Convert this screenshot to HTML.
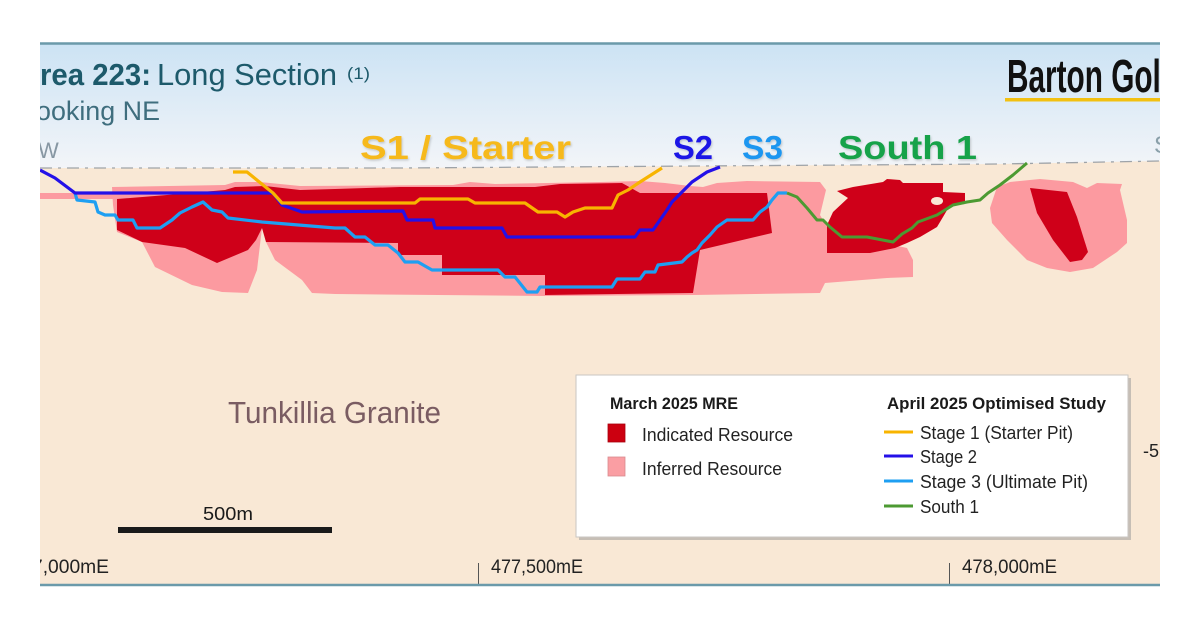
<!DOCTYPE html>
<html>
<head>
<meta charset="utf-8">
<style>
  html,body{margin:0;padding:0;background:#ffffff;}
  svg{display:block;}
  text{font-family:"Liberation Sans",sans-serif;}
</style>
</head>
<body>
<svg width="1200" height="628" viewBox="0 0 1200 628" xmlns="http://www.w3.org/2000/svg">
  <defs>
    <linearGradient id="sky" x1="0" y1="44" x2="0" y2="170" gradientUnits="userSpaceOnUse">
      <stop offset="0" stop-color="#cce3f4"/>
      <stop offset="0.6" stop-color="#e4eef7"/>
      <stop offset="1" stop-color="#f3f5f8"/>
    </linearGradient>
    <clipPath id="frame">
      <rect x="40" y="43" width="1120" height="543"/>
    </clipPath>
    <filter id="ts" x="-10%" y="-10%" width="120%" height="130%">
      <feDropShadow dx="1" dy="1.5" stdDeviation="1" flood-color="#000" flood-opacity="0.18"/>
    </filter>
  </defs>

  <rect x="0" y="0" width="1200" height="628" fill="#ffffff"/>

  <g clip-path="url(#frame)">
    <!-- sky -->
    <rect x="40" y="43" width="1120" height="130" fill="url(#sky)"/>
    <!-- ground -->
    <path d="M40,168 L400,168 L700,166 L1000,164 L1160,161 L1160,586 L40,586 Z" fill="#f9e8d5"/>
    <!-- horizon dashed -->
    <polyline points="40,168 400,168 700,166 1000,164 1160,161" fill="none" stroke="#9ea3a8" stroke-width="1.3" stroke-dasharray="12 6 3 6"/>

    <!-- pink strip far left -->
    <rect x="40" y="193" width="74" height="6" fill="#fc9aa0"/>

    <!-- main inferred (pink) -->
    <polygon fill="#fc9aa0" points="112,187 225,185 235,182 260,182 300,186 453,185 470,182 495,184 600,182 640,181 665,183 690,186 703,187 717,183 747,181 820,182 826,190 820,215 826,225 870,240 907,248 913,260 913,277 887,278 825,283 820,293 693,295 545,296 335,294 312,293 302,280 275,260 266,242 262,228 257,270 248,293 222,292 192,285 155,267 142,242 117,232 113,205"/>

    <!-- main indicated (red) -->
    <polygon fill="#cf0019" points="117,199 167,195 225,190 235,187 265,186 300,190 335,189 400,187 535,187 560,184 622,183 640,193 767,193 772,233 700,250 693,293 545,295 545,275 442,275 442,255 398,255 398,243 266,242 262,228 256,240 248,250 217,263 185,248 142,242 117,230"/>

    <!-- South 1 red blob -->
    <polygon fill="#cf0019" points="837,191 853,187 883,182 887,179 900,180 903,183 943,183 943,192 965,193 965,204 950,205 943,217 937,227 920,237 907,243 895,248 870,253 827,253 827,225 833,212 848,198"/>
    <ellipse cx="937" cy="201" rx="6" ry="4" fill="#f9e8d5"/>

    <!-- right pink blob -->
    <polygon fill="#fc9aa0" points="997,187 1010,182 1040,179 1073,182 1087,188 1097,183 1122,184 1120,190 1127,220 1127,243 1117,252 1093,268 1070,272 1047,268 1027,260 1007,240 992,223 990,208"/>
    <polygon fill="#cf0019" points="1030,188 1067,192 1077,217 1088,252 1082,260 1070,262 1053,240 1037,213"/>

    <!-- Stage 3 (light blue) -->
    <polyline fill="none" stroke="#1e9ff2" stroke-width="3.2" stroke-linejoin="round" points="75,193 77,200 95,202 98,212 105,215 115,215 118,220 133,220 137,228 160,228 172,220 180,213 192,207 203,202 212,210 222,212 228,218 262,222 335,228 345,228 355,237 365,237 375,245 388,245 398,253 405,262 418,262 432,270 498,270 505,277 515,277 527,292 537,292 540,287 612,287 617,279 640,279 645,272 655,272 658,265 682,262 687,257 692,253 697,250 702,243 710,235 717,227 727,220 753,220 760,212 767,207 772,200 778,193 787,193"/>

    <!-- Stage 2 (blue) -->
    <polyline fill="none" stroke="#2410e8" stroke-width="3.2" stroke-linejoin="round" points="40,170 55,178 75,193 273,193 282,205 302,212 403,211 407,220 433,220 435,228 502,228 507,237 635,237 640,230 653,230 660,220 667,210 672,202 682,192 692,182 707,172 720,167"/>

    <!-- Stage 1 (orange) -->
    <polyline fill="none" stroke="#f8b400" stroke-width="3.2" stroke-linejoin="round" points="233,172 247,172 273,193 282,203 415,203 420,199 468,199 475,203 525,203 538,212 557,212 565,217 573,212 585,208 612,208 618,195 628,190 640,182 662,168"/>

    <!-- South 1 (green) -->
    <polyline fill="none" stroke="#4c9a32" stroke-width="3" stroke-linejoin="round" points="787,193 797,197 807,208 817,220 823,220 830,227 842,237 867,237 893,242 902,234 912,228 918,222 937,215 953,205 967,202 980,200 988,193 1000,185 1013,175 1027,163"/>

    <!-- Title -->
    <text x="40" y="85" font-size="31" font-weight="bold" fill="#1d5a6b" textLength="111" lengthAdjust="spacingAndGlyphs">rea 223:</text>
    <text x="157" y="85" font-size="31" fill="#1d5a6b" textLength="180" lengthAdjust="spacingAndGlyphs">Long Section</text>
    <text x="347" y="79" font-size="17" fill="#1d5a6b" textLength="23" lengthAdjust="spacingAndGlyphs">(1)</text>
    <text x="36" y="120" font-size="27" fill="#3f6e7e" textLength="124" lengthAdjust="spacingAndGlyphs">ooking NE</text>
    <text x="38" y="158" font-size="22" fill="#8797a3">W</text>

    <!-- Stage labels -->
    <g filter="url(#ts)" font-weight="bold" font-size="33">
      <text x="360" y="159" fill="#f6b91a" textLength="211" lengthAdjust="spacingAndGlyphs">S1 / Starter</text>
      <text x="673" y="159" fill="#1a14e6" textLength="40" lengthAdjust="spacingAndGlyphs">S2</text>
      <text x="742" y="159" fill="#1e96f0" textLength="41" lengthAdjust="spacingAndGlyphs">S3</text>
      <text x="838" y="159" fill="#17a24a" textLength="139" lengthAdjust="spacingAndGlyphs">South 1</text>
    </g>
    <text x="1154" y="153" font-size="24" fill="#8aa0aa">S</text>

    <!-- Logo -->
    <text x="1007" y="92" font-size="46" font-weight="bold" fill="#111111" textLength="172" lengthAdjust="spacingAndGlyphs">Barton Gold</text>
    <rect x="1005" y="98" width="160" height="3.5" fill="#f2c011"/>

    <!-- Granite label -->
    <text x="228" y="423" font-size="31" fill="#7a5c62" textLength="213" lengthAdjust="spacingAndGlyphs">Tunkillia Granite</text>

    <!-- Scale bar -->
    <text x="203" y="520" font-size="18" fill="#1a1a1a" textLength="50" lengthAdjust="spacingAndGlyphs">500m</text>
    <rect x="118" y="527" width="214" height="6" fill="#1a1a1a"/>

    <!-- Legend -->
    <rect x="579" y="378" width="552" height="162" fill="#b9b3ad" opacity="0.8"/>
    <rect x="576" y="375" width="552" height="162" fill="#ffffff" stroke="#c9c6c2" stroke-width="1"/>
    <text x="610" y="409" font-size="17" font-weight="bold" fill="#1a1a1a" textLength="128" lengthAdjust="spacingAndGlyphs">March 2025 MRE</text>
    <rect x="608" y="424" width="17" height="18" fill="#cc0010" stroke="#a8000c" stroke-width="0.8"/>
    <text x="642" y="441" font-size="18" fill="#222222" textLength="151" lengthAdjust="spacingAndGlyphs">Indicated Resource</text>
    <rect x="608" y="457" width="17" height="19" fill="#fa9ea3" stroke="#d98a8e" stroke-width="0.8"/>
    <text x="642" y="475" font-size="18" fill="#222222" textLength="140" lengthAdjust="spacingAndGlyphs">Inferred Resource</text>

    <text x="887" y="409" font-size="17" font-weight="bold" fill="#1a1a1a" textLength="219" lengthAdjust="spacingAndGlyphs">April 2025 Optimised Study</text>
    <line x1="884" y1="432" x2="913" y2="432" stroke="#f8b400" stroke-width="3"/>
    <text x="920" y="439" font-size="18" fill="#222222" textLength="153" lengthAdjust="spacingAndGlyphs">Stage 1 (Starter Pit)</text>
    <line x1="884" y1="456" x2="913" y2="456" stroke="#2410e8" stroke-width="3"/>
    <text x="920" y="463" font-size="18" fill="#222222" textLength="57" lengthAdjust="spacingAndGlyphs">Stage 2</text>
    <line x1="884" y1="481" x2="913" y2="481" stroke="#1e9ff2" stroke-width="3"/>
    <text x="920" y="488" font-size="18" fill="#222222" textLength="168" lengthAdjust="spacingAndGlyphs">Stage 3 (Ultimate Pit)</text>
    <line x1="884" y1="506" x2="913" y2="506" stroke="#4c9a32" stroke-width="3"/>
    <text x="920" y="513" font-size="18" fill="#222222" textLength="59" lengthAdjust="spacingAndGlyphs">South 1</text>

    <text x="1143" y="457" font-size="18" fill="#222222">-5</text>

    <!-- Axis ticks and labels -->
    <line x1="478.5" y1="563" x2="478.5" y2="586" stroke="#555" stroke-width="1"/>
    <line x1="949.5" y1="563" x2="949.5" y2="586" stroke="#555" stroke-width="1"/>
    <text x="32" y="573" font-size="19" fill="#222222" textLength="77" lengthAdjust="spacingAndGlyphs">7,000mE</text>
    <text x="491" y="573" font-size="19" fill="#222222" textLength="92" lengthAdjust="spacingAndGlyphs">477,500mE</text>
    <text x="962" y="573" font-size="19" fill="#222222" textLength="95" lengthAdjust="spacingAndGlyphs">478,000mE</text>
  </g>

  <!-- frame borders -->
  <line x1="40" y1="43.5" x2="1160" y2="43.5" stroke="#6b9aaa" stroke-width="2.5"/>
  <line x1="40" y1="585" x2="1160" y2="585" stroke="#6b9aaa" stroke-width="2.5"/>
</svg>
</body>
</html>
